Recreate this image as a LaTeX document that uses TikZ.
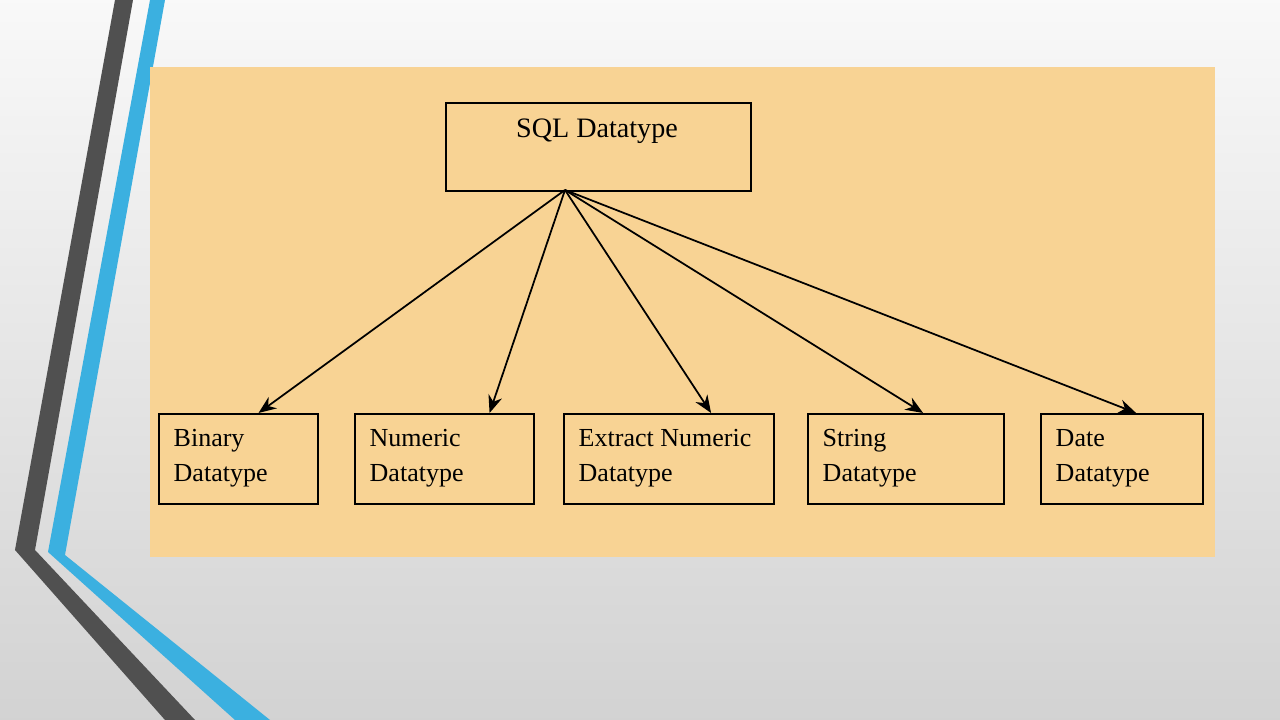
\documentclass[tikz,border=0pt]{standalone}
\usepackage{fontspec}
\setmainfont{Liberation Serif}
\usetikzlibrary{positioning,arrows.meta}
\definecolor{panel}{HTML}{F8D394}
\definecolor{stripeblue}{HTML}{3BB0E0}
\definecolor{stripegray}{HTML}{505050}
\begin{document}
\begin{tikzpicture}
    [typebox/.style={draw, line width=0.6pt, minimum height=0.9cm,
       anchor=north west, inner sep=0pt},
      typetext/.style={anchor=west, align=left, inner sep=0pt,
       font=\fontsize{7.4}{10.1}\selectfont},
      link/.style={-{Stealth[length=5pt,width=4pt]}, line width=0.5pt}]
    % slide background and the two stripes on the left
    \shade[top color=white!95!gray, bottom color=gray!35] (0,0) rectangle (12.8,7.2);
    \useasboundingbox (0,0) rectangle (12.8,7.2);
    \fill[stripegray] (1.15,7.2) -- (1.33,7.2) -- (0.35,1.7) -- (1.95,0) -- (1.65,0) -- (0.15,1.7) -- cycle;
    \fill[stripeblue] (1.5,7.2) -- (1.65,7.2) -- (0.65,1.65) -- (2.7,0) -- (2.35,0) -- (0.48,1.68) -- cycle;
    \fill[panel] (1.5,1.63) rectangle (12.15,6.53);
    % the tree
    \node[draw, line width=0.6pt, minimum width=3.05cm, minimum height=0.88cm,
      anchor=north west] (sql) at (4.45,6.18) {};
    \node[font=\fontsize{8}{10}\selectfont] (sqltext) at (5.97,5.89) {SQL Datatype};
    \coordinate (hub) at (5.65,5.30);
    \node[typebox, minimum width=1.59cm] (binary) at (1.58,3.07) {};
    \node[typebox, minimum width=1.79cm] (numeric) at (3.54,3.07) {};
    \node[typebox, minimum width=2.10cm] (extract) at (5.63,3.07) {};
    \node[typebox, minimum width=1.96cm] (string) at (8.07,3.07) {};
    \node[typebox, minimum width=1.62cm] (date) at (10.40,3.07) {};
    \foreach \b/\t in {binary/{Binary\\Datatype}, numeric/{Numeric\\Datatype},
        extract/{Extract Numeric\\Datatype}, string/{String\\Datatype}, date/{Date\\Datatype}}
      \node[typetext] at ([xshift=0.15cm,yshift=0.01cm]\b.west) {\t};
    \draw[link] (hub) -- ([xshift=0.20cm]binary.north);
    \draw[link] (hub) -- ([xshift=0.45cm]numeric.north);
    \draw[link] (hub) -- ([xshift=0.42cm]extract.north);
    \draw[link] (hub) -- ([xshift=0.17cm]string.north);
    \draw[link] (hub) -- ([xshift=0.14cm]date.north);
\end{tikzpicture}
\end{document}
